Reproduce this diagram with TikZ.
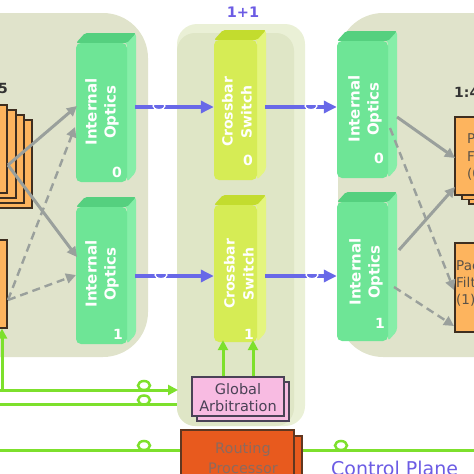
\documentclass[tikz,border=0pt]{standalone}
\usepackage{fontspec}
\setmainfont{DejaVu Sans}
\usetikzlibrary{arrows.meta}
\definecolor{panelc}{HTML}{E0E3CB}
\definecolor{midc}{HTML}{DFE6C6}
\definecolor{midrim}{HTML}{EAF0D6}
\definecolor{optf}{HTML}{6EE596}
\definecolor{optt}{HTML}{55D07F}
\definecolor{opts}{HTML}{86EEA8}
\definecolor{xbf}{HTML}{D6EC55}
\definecolor{xbt}{HTML}{C3DC2E}
\definecolor{xbs}{HTML}{E4F57E}
\definecolor{orangec}{HTML}{FDB45E}
\definecolor{boxline}{HTML}{3E2E20}
\definecolor{bluec}{HTML}{6868E8}
\definecolor{grayc}{HTML}{9AA09C}
\definecolor{greenc}{HTML}{7DE02C}
\definecolor{pinkc}{HTML}{F8BBE2}
\definecolor{routec}{HTML}{E85A1E}
\definecolor{routetext}{HTML}{8C6A5E}
\definecolor{purplec}{HTML}{6C5CE4}
\definecolor{darktext}{HTML}{4A4256}
\definecolor{pftext}{HTML}{5A5248}
\newcommand{\rectnode}[6]{\node[#6, inner sep=0, minimum width=#4pt, minimum height=#5pt] (#1) at (#2,#3) {};}
\newcommand{\solidbox}[8]{%
  \fill[#8, rounded corners=3pt] (#4,#3) -- (#2+9,#3-10) -- (#4+9,#3-10) -- (#4+9,#5-10) -- (#4,#5) -- cycle;
  \fill[#7, rounded corners=2pt] (#2,#3) -- (#2+9,#3-10) -- (#4+9,#3-10) -- (#4,#3) -- cycle;
  \node[fill=#6, rounded corners=5pt, inner sep=0, minimum width=#4pt-#2pt, minimum height=#5pt-#3pt] (#1) at ({(#2+#4)/2},{(#3+#5)/2}) {};}
\begin{document}
\begin{tikzpicture}[x=1pt,y=-1pt,
  obox/.style={fill=orangec, draw=boxline, line width=1.2pt},
  gabox/.style={fill=pinkc, draw=darktext, line width=1.2pt},
  rpbox/.style={fill=routec, draw=boxline!80!routec, line width=1.2pt},
  bluearr/.style={draw=bluec, line width=3.3pt, -{Triangle[length=13pt,width=12pt]}},
  grayarr/.style={draw=grayc, line width=3pt, -{Triangle[length=10pt,width=10pt]}},
  graydash/.style={draw=grayc, line width=2.4pt, dash pattern=on 8pt off 5pt, -{Triangle[length=10pt,width=10pt]}},
  greenline/.style={draw=greenc, line width=3pt},
  greenarr/.style={draw=greenc, line width=3pt, -{Triangle[length=10pt,width=10pt]}},
  loopst/.style={draw=greenc, line width=2.5pt, fill=white},
  hopst/.style={draw=white, line width=1.2pt},
  opttext/.style={text=white, font=\bfseries\fontsize{15}{19}\selectfont, align=center, rotate=90, inner sep=0},
  xbtext/.style={text=white, font=\bfseries\fontsize{14}{19}\selectfont, align=center, rotate=90, inner sep=0},
  numtext/.style={text=white, font=\bfseries\fontsize{14}{14}\selectfont, inner sep=0},
  pft/.style={text=pftext, font=\fontsize{13.5}{16}\selectfont, anchor=base west, inner sep=0},
  gat/.style={text=darktext, font=\fontsize{14.5}{17}\selectfont, anchor=base, inner sep=0},
  rpt/.style={text=routetext, font=\fontsize{14.5}{17}\selectfont, anchor=base, inner sep=0},
  headt/.style={text=purplec, font=\bfseries\fontsize{14.5}{16}\selectfont, inner sep=0},
  ratiot/.style={text=black!80, font=\bfseries\fontsize{14}{16}\selectfont, inner sep=0}]
\useasboundingbox (0,0) rectangle (474,474);
\begin{scope}
\clip (0,0) rectangle (474,474);
% panels
\fill[panelc, rounded corners=45pt] (-80,13) rectangle (148,357);
\fill[panelc, rounded corners=45pt] (338,13) rectangle (560,357);
\fill[midrim, rounded corners=20pt] (177,24) rectangle (305,426);
\fill[midc, rounded corners=18pt] (177,33) rectangle (294,426);
% left orange stack
\rectnode{ls3}{8}{164}{48}{88}{obox}
\rectnode{ls2}{0}{159}{48}{88}{obox}
\rectnode{ls1}{-8}{154}{48}{88}{obox}
\rectnode{ls0}{-17}{149}{48}{88}{obox}
\rectnode{lb}{-17}{284}{48}{88}{obox}
\node[ratiot, anchor=base east] (lratio) at (8,93) {5};
% right orange stack
\rectnode{rs2}{511.5}{165}{85}{78}{obox}
\rectnode{rs1}{504.5}{160.5}{85}{78}{obox}
\rectnode{rs0}{497.5}{156}{85}{78}{obox}
\rectnode{rb}{497.5}{287.5}{85}{89}{obox}
\node[ratiot, anchor=base west] (rratio) at (454,97) {1:4};
\node[pft] (pf0a) at (467,143) {Packet};
\node[pft] (pf0b) at (467,161) {Filter};
\node[pft] (pf0c) at (467,178) {(0)};
\node[pft] (pf1a) at (456,270) {Packet};
\node[pft] (pf1b) at (456,287) {Filter};
\node[pft] (pf1c) at (456,304) {(1)};
% 3D boxes
\solidbox{lo0}{76}{43}{127}{182}{optf}{optt}{opts}
\solidbox{lo1}{76}{207}{127}{344}{optf}{optt}{opts}
\solidbox{xb0}{214}{40}{257}{180}{xbf}{xbt}{xbs}
\solidbox{xb1}{214}{205}{257}{342}{xbf}{xbt}{xbs}
\solidbox{ro0}{337}{41}{388}{178}{optf}{optt}{opts}
\solidbox{ro1}{337}{202}{388}{341}{optf}{optt}{opts}
\node[opttext] (lo0t) at (102,112) {Internal\\Optics};
\node[opttext] (lo1t) at (102,274) {Internal\\Optics};
\node[xbtext] (xb0t) at (237,112) {Crossbar\\Switch};
\node[xbtext] (xb1t) at (239,274) {Crossbar\\Switch};
\node[opttext] (ro0t) at (365,109) {Internal\\Optics};
\node[opttext] (ro1t) at (366,272) {Internal\\Optics};
\node[numtext] (lo0n) at (117,172) {0};
\node[numtext] (lo1n) at (118,334) {1};
\node[numtext] (xb0n) at (248,160) {0};
\node[numtext] (xb1n) at (249,334) {1};
\node[numtext] (ro0n) at (379,158) {0};
\node[numtext] (ro1n) at (380,323) {1};
% gray arrows left
\coordinate (gA) at (8,165);
\coordinate (gB) at (8,300);
\coordinate (lo0a) at (77,106);
\coordinate (lo0b) at (75,127);
\coordinate (lo1a) at (77,257);
\coordinate (lo1b) at (76,275);
\draw[grayarr] (gA) -- (lo0a);
\draw[grayarr] (gA) -- (lo1a);
\draw[graydash] (gB) -- (lo0b);
\draw[graydash] (gB) -- (lo1b);
% gray arrows right
\coordinate (ro0a) at (397,117);
\coordinate (ro0b) at (390,128);
\coordinate (ro1a) at (399,250);
\coordinate (ro1b) at (394,287);
\coordinate (rs0a) at (455,158);
\coordinate (rs0b) at (455,187);
\coordinate (rba) at (454,290);
\coordinate (rbb) at (454,326);
\draw[grayarr] (ro0a) -- (rs0a);
\draw[grayarr] (ro1a) -- (rs0b);
\draw[graydash] (ro0b) -- (rba);
\draw[graydash] (ro1b) -- (rbb);
% blue data arrows
\coordinate (b1) at (135,107);
\coordinate (b2) at (265,107);
\coordinate (b3) at (135,276);
\coordinate (b4) at (265,276);
\draw[bluearr] (b1) -- (b1 -| xb0.west);
\draw[bluearr] (b2) -- (b2 -| ro0.west);
\draw[bluearr] (b3) -- (b3 -| xb1.west);
\draw[bluearr] (b4) -- (b4 -| ro1.west);
\draw[hopst] (159,106) ellipse [x radius=6, y radius=3.5];
\draw[hopst] (311,106) ellipse [x radius=6, y radius=3.5];
\draw[hopst] (161,275) ellipse [x radius=6, y radius=3.5];
\draw[hopst] (312,275) ellipse [x radius=6, y radius=3.5];
% green control lines
\coordinate (g1s) at (-5,390);
\coordinate (g1e) at (178,390);
\coordinate (g2s) at (-5,404);
\coordinate (g2e) at (177,404);
\coordinate (g3s) at (-5,450);
\coordinate (g3e) at (480,450);
\coordinate (gv) at (2,390);
\draw[greenline] (g2s) -- (g2e);
\draw[greenline] (g3s) -- (g3e);
\draw[greenarr] (g1s) -- (g1e);
\draw[greenarr] (gv) -- (gv |- lb.south);
\draw[loopst] (144,385.5) ellipse [x radius=6, y radius=4.5];
\draw[loopst] (144,400) ellipse [x radius=6, y radius=4.5];
\draw[loopst] (144,445.5) ellipse [x radius=6, y radius=4.5];
\draw[loopst] (341,445.5) ellipse [x radius=6, y radius=4.5];
% global arbitration
\rectnode{gaback}{243}{401.5}{92}{39}{gabox}
\rectnode{ga}{238}{396.5}{92}{39}{gabox}
\node[gat] (gat1) at (238,394) {Global};
\node[gat] (gat2) at (238,411) {Arbitration};
\coordinate (ua) at (223,0);
\coordinate (ub) at (253,0);
\draw[greenarr, shorten >=-2pt] (ga.north -| ua) -- (xb1.south -| ua);
\draw[greenarr, shorten >=-2pt] (ga.north -| ub) -- (xb1.south -| ub);
% routing processor
\rectnode{rpback}{245.5}{466}{113}{60}{rpbox}
\rectnode{rp}{237.5}{460}{113}{60}{rpbox}
\node[rpt] (rpt1) at (243,453) {Routing};
\node[rpt] (rpt2) at (243,473) {Processor};
% headings
\node[headt] (head11) at (243,12) {1+1};
\node[text=purplec, font=\fontsize{19}{22}\selectfont, anchor=base west, inner sep=0] (cp) at (331,475) {Control Plane};
\end{scope}
\end{tikzpicture}
\end{document}
